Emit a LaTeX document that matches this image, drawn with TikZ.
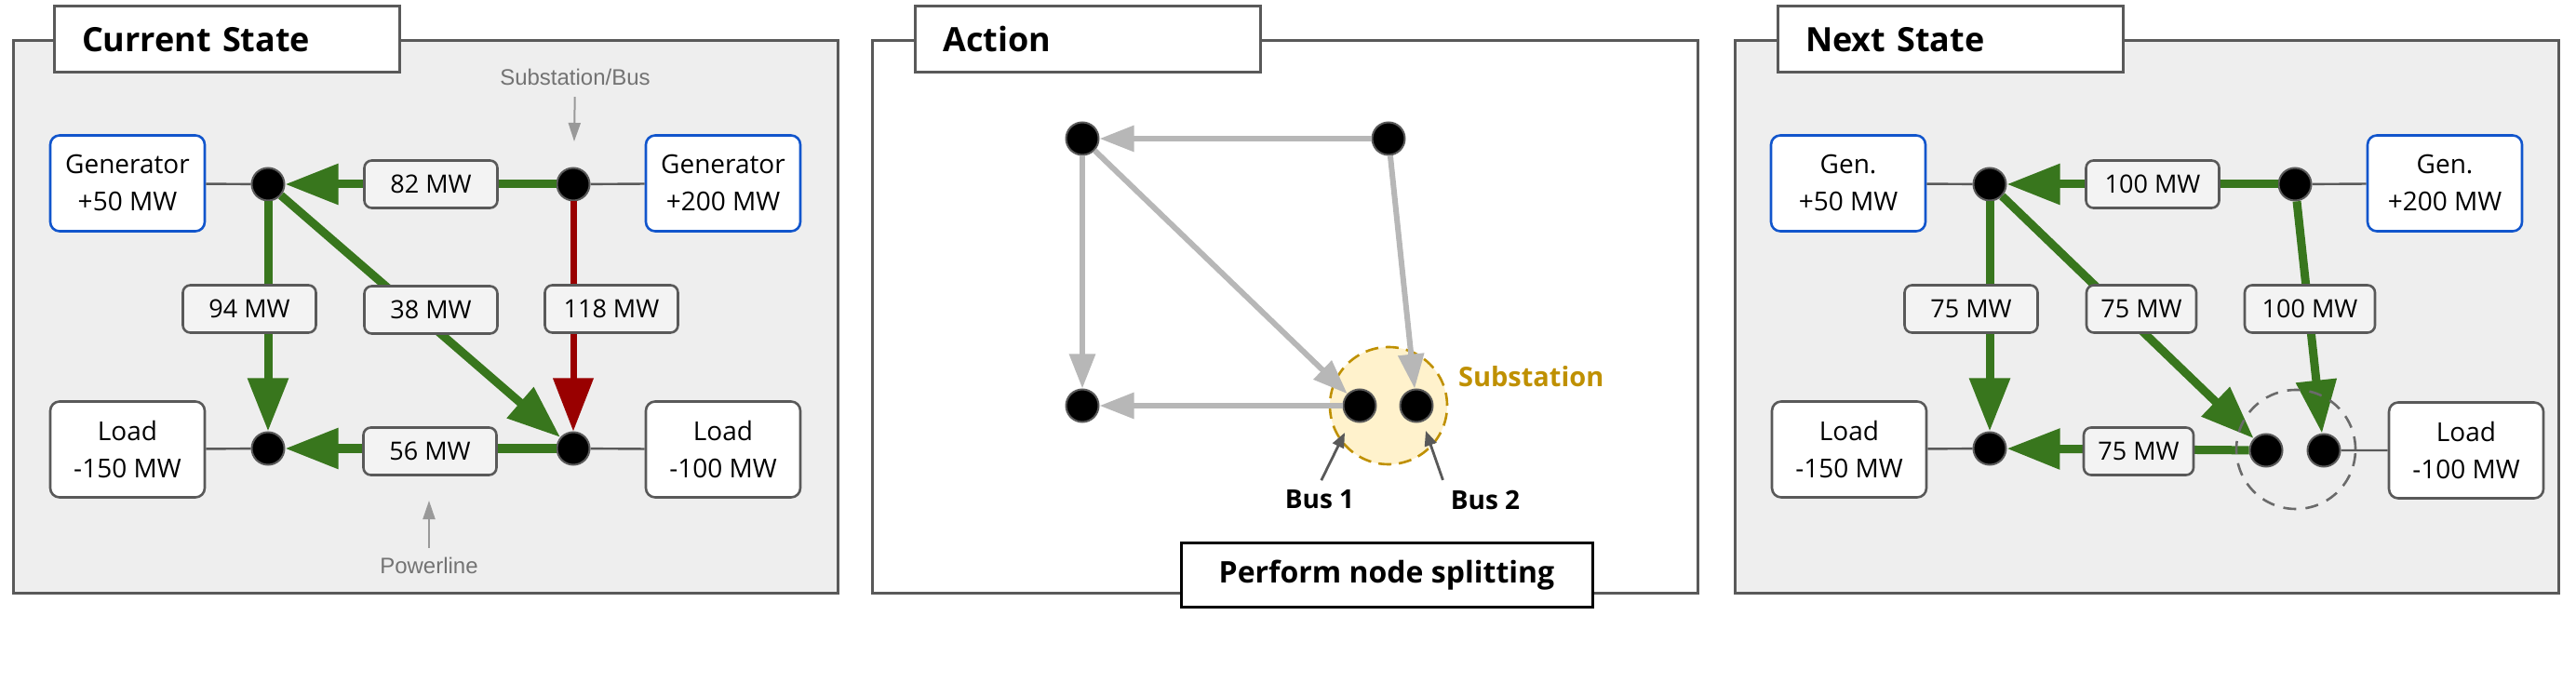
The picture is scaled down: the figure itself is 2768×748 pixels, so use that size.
\documentclass[tikz,border=0pt]{standalone}
\usepackage{fontspec}
\setmainfont{Open Sans}
\newfontfamily\notefont{Liberation Sans}
\usetikzlibrary{positioning, arrows.meta, shapes}
\definecolor{flowgreen}{HTML}{38761D}
\definecolor{flowred}{HTML}{990000}
\definecolor{genblue}{HTML}{1155CC}
\definecolor{edgegray}{HTML}{595959}
\definecolor{panelgray}{HTML}{EEEEEE}
\definecolor{tagfill}{HTML}{F3F3F3}
\definecolor{actgray}{HTML}{B7B7B7}
\definecolor{notegray}{HTML}{999999}
\definecolor{notetext}{HTML}{737373}
\definecolor{subfill}{HTML}{FFF2CC}
\definecolor{subline}{HTML}{BF9000}

\begin{document}
\begin{tikzpicture}[x=0.5pt,y=-0.5pt]
			\tikzstyle{panel}=[draw=edgegray,line width=1.5pt]
			\tikzstyle{title}=[draw=edgegray,line width=1.5pt,fill=white,minimum height=35.5pt,inner xsep=15pt,text width=155.5pt,align=left,font=\fontsize{18}{22}\selectfont\bfseries]
			\tikzstyle{bus}=[circle,fill=black,draw=edgegray,line width=1pt,minimum size=17.5pt,inner sep=0pt]
			\tikzstyle{gen}=[draw=genblue,line width=1.3pt,fill=white,rounded corners=5pt,minimum width=83pt,minimum height=51.5pt,align=center,font=\fontsize{14}{20}\selectfont]
			\tikzstyle{load}=[gen,draw=edgegray]
			\tikzstyle{mw}=[draw=edgegray,line width=1.3pt,fill=tagfill,rounded corners=4pt,minimum width=71.5pt,minimum height=25.5pt,inner sep=0pt,font=\fontsize{13.5}{16}\selectfont]
			\tikzstyle{tie}=[edgegray,line width=1.2pt]
			\tikzstyle{flow}=[flowgreen,line width=4.5pt,-{Triangle[length=28.5pt,width=21pt]}]
			\tikzstyle{act}=[actgray,line width=3pt,-{Triangle[length=18.5pt,width=13.5pt]}]
			\tikzstyle{annot}=[text=notetext,inner sep=2pt,font=\notefont\fontsize{12}{14}\selectfont]
			\tikzstyle{pointer}=[notegray,line width=1pt,-{Triangle[length=10pt,width=6.5pt]}]
			\tikzstyle{busptr}=[edgegray,line width=1.4pt,-{Triangle[length=8pt,width=6.5pt]}]
			\tikzstyle{buslbl}=[font=\fontsize{14}{16}\selectfont\bfseries]
			\useasboundingbox (0,0) rectangle (2768,748);
			\draw[panel,fill=panelgray] (14,44) rectangle (900,637);
			\draw[panel] (937,44) rectangle (1824,637);
			\draw[panel,fill=panelgray] (1864,44) rectangle (2749,637);
			\node[title] (t1) at (243.5,42.5) {Current State};
			\node[title] (t2) at (1169,42.5) {Action};
			\node[title] (t3) at (2095.5,42.5) {Next State};

			\node[bus] (b1) at (288,198) {};
			\node[bus] (b2) at (616,198) {};
			\node[bus] (b3) at (288,482) {};
			\node[bus] (b4) at (616,482) {};
			\node[gen] (g1) at (137,197) {Generator\\+50 MW};
			\node[gen] (g2) at (777,197) {Generator\\+200 MW};
			\node[load] (d1) at (137,483) {Load\\-150 MW};
			\node[load] (d2) at (777,483) {Load\\-100 MW};
			\draw[tie] (g1) -- (b1) (g2) -- (b2) (d1) -- (b3) (d2) -- (b4);
			\draw[flow] (b2) -- (b1);
			\draw[flow] (b1) -- (b3);
			\draw[flow] (b1) -- (b4);
			\draw[flow,flowred,line width=3.5pt] (b2) -- (b4);
			\draw[flow] (b4) -- (b3);
			\node[mw] (f1) at (463,198) {82 MW};
			\node[mw] (f2) at (268,332) {94 MW};
			\node[mw] (f3) at (463,333) {38 MW};
			\node[mw] (f4) at (657,332) {118 MW};
			\node[mw] (f5) at (462,485) {56 MW};
			\node[annot] (n1) at (618,83) {Substation/Bus};
			\coordinate (n1tip) at (617,152);
			\draw[pointer,shorten <=4pt] (n1) -- (n1tip);
			\node[annot] (n2) at (461,608) {Powerline};
			\coordinate (n2tip) at (461,538);
			\draw[pointer,shorten <=3pt] (n2) -- (n2tip);

			\node[circle,draw=subline,fill=subfill,line width=1.3pt,dash pattern=on 7pt off 4pt,minimum size=63pt] (sub) at (1492,436) {};
			\node[bus] (a1) at (1163,149) {};
			\node[bus] (a2) at (1492,149) {};
			\node[bus] (a3) at (1163,436) {};
			\node[bus] (a4) at (1461,436) {};
			\node[bus] (a5) at (1522,436) {};
			\draw[act] (a2) -- (a1);
			\draw[act] (a1) -- (a3);
			\draw[act] (a1) -- (a4);
			\draw[act] (a2) -- (a5);
			\draw[act] (a4) -- (a3);
			\node[buslbl,text=subline,anchor=west,font=\fontsize{14.5}{16}\selectfont\bfseries] (subtxt) at (1560,405) {Substation};
			\node[buslbl] (bus1txt) at (1418,537) {Bus 1};
			\node[buslbl] (bus2txt) at (1596,537) {Bus 2};
			\coordinate (bus1tip) at (1445,465);
			\coordinate (bus2tip) at (1532,463);
			\draw[busptr,shorten <=2pt] (bus1txt.north) -- (bus1tip);
			\draw[busptr,shorten <=2pt] (bus2txt.north west) -- (bus2tip);
			\node[draw=black,line width=1.5pt,fill=white,minimum width=221pt,minimum height=34.5pt,font=\fontsize{16}{20}\selectfont\bfseries] (split) at (1490,618) {Perform node splitting};

			\node[bus] (c1) at (2138,198) {};
			\node[bus] (c2) at (2466,198) {};
			\node[bus] (c3) at (2138,482) {};
			\node[bus] (c4) at (2435,484) {};
			\node[bus] (c5) at (2497,484) {};
			\node[gen] (g3) at (1986,197) {Gen.\\+50 MW};
			\node[gen] (g4) at (2627,197) {Gen.\\+200 MW};
			\node[load] (d3) at (1987,483) {Load\\-150 MW};
			\node[load] (d4) at (2650,484) {Load\\-100 MW};
			\draw[tie] (g3) -- (c1) (g4) -- (c2) (d3) -- (c3) (c5) -- (d4);
			\draw[flow] (c2) -- (c1);
			\draw[flow] (c1) -- (c3);
			\draw[flow] (c1) -- (c4);
			\draw[flow] (c2) -- (c5);
			\draw[flow] (c4) -- (c3);
			\node[circle,draw=edgegray!90,line width=1.3pt,dash pattern=on 7pt off 5pt,minimum size=64pt] (split2) at (2467,483) {};
			\node[mw] (h1) at (2313,198) {100 MW};
			\node[mw] (h2) at (2118,332) {75 MW};
			\node[mw,minimum width=59pt] (h3) at (2301,332) {75 MW};
			\node[mw,minimum width=70pt] (h4) at (2482,332) {100 MW};
			\node[mw,minimum width=59pt] (h5) at (2298,485) {75 MW};
		\end{tikzpicture}
\end{document}
